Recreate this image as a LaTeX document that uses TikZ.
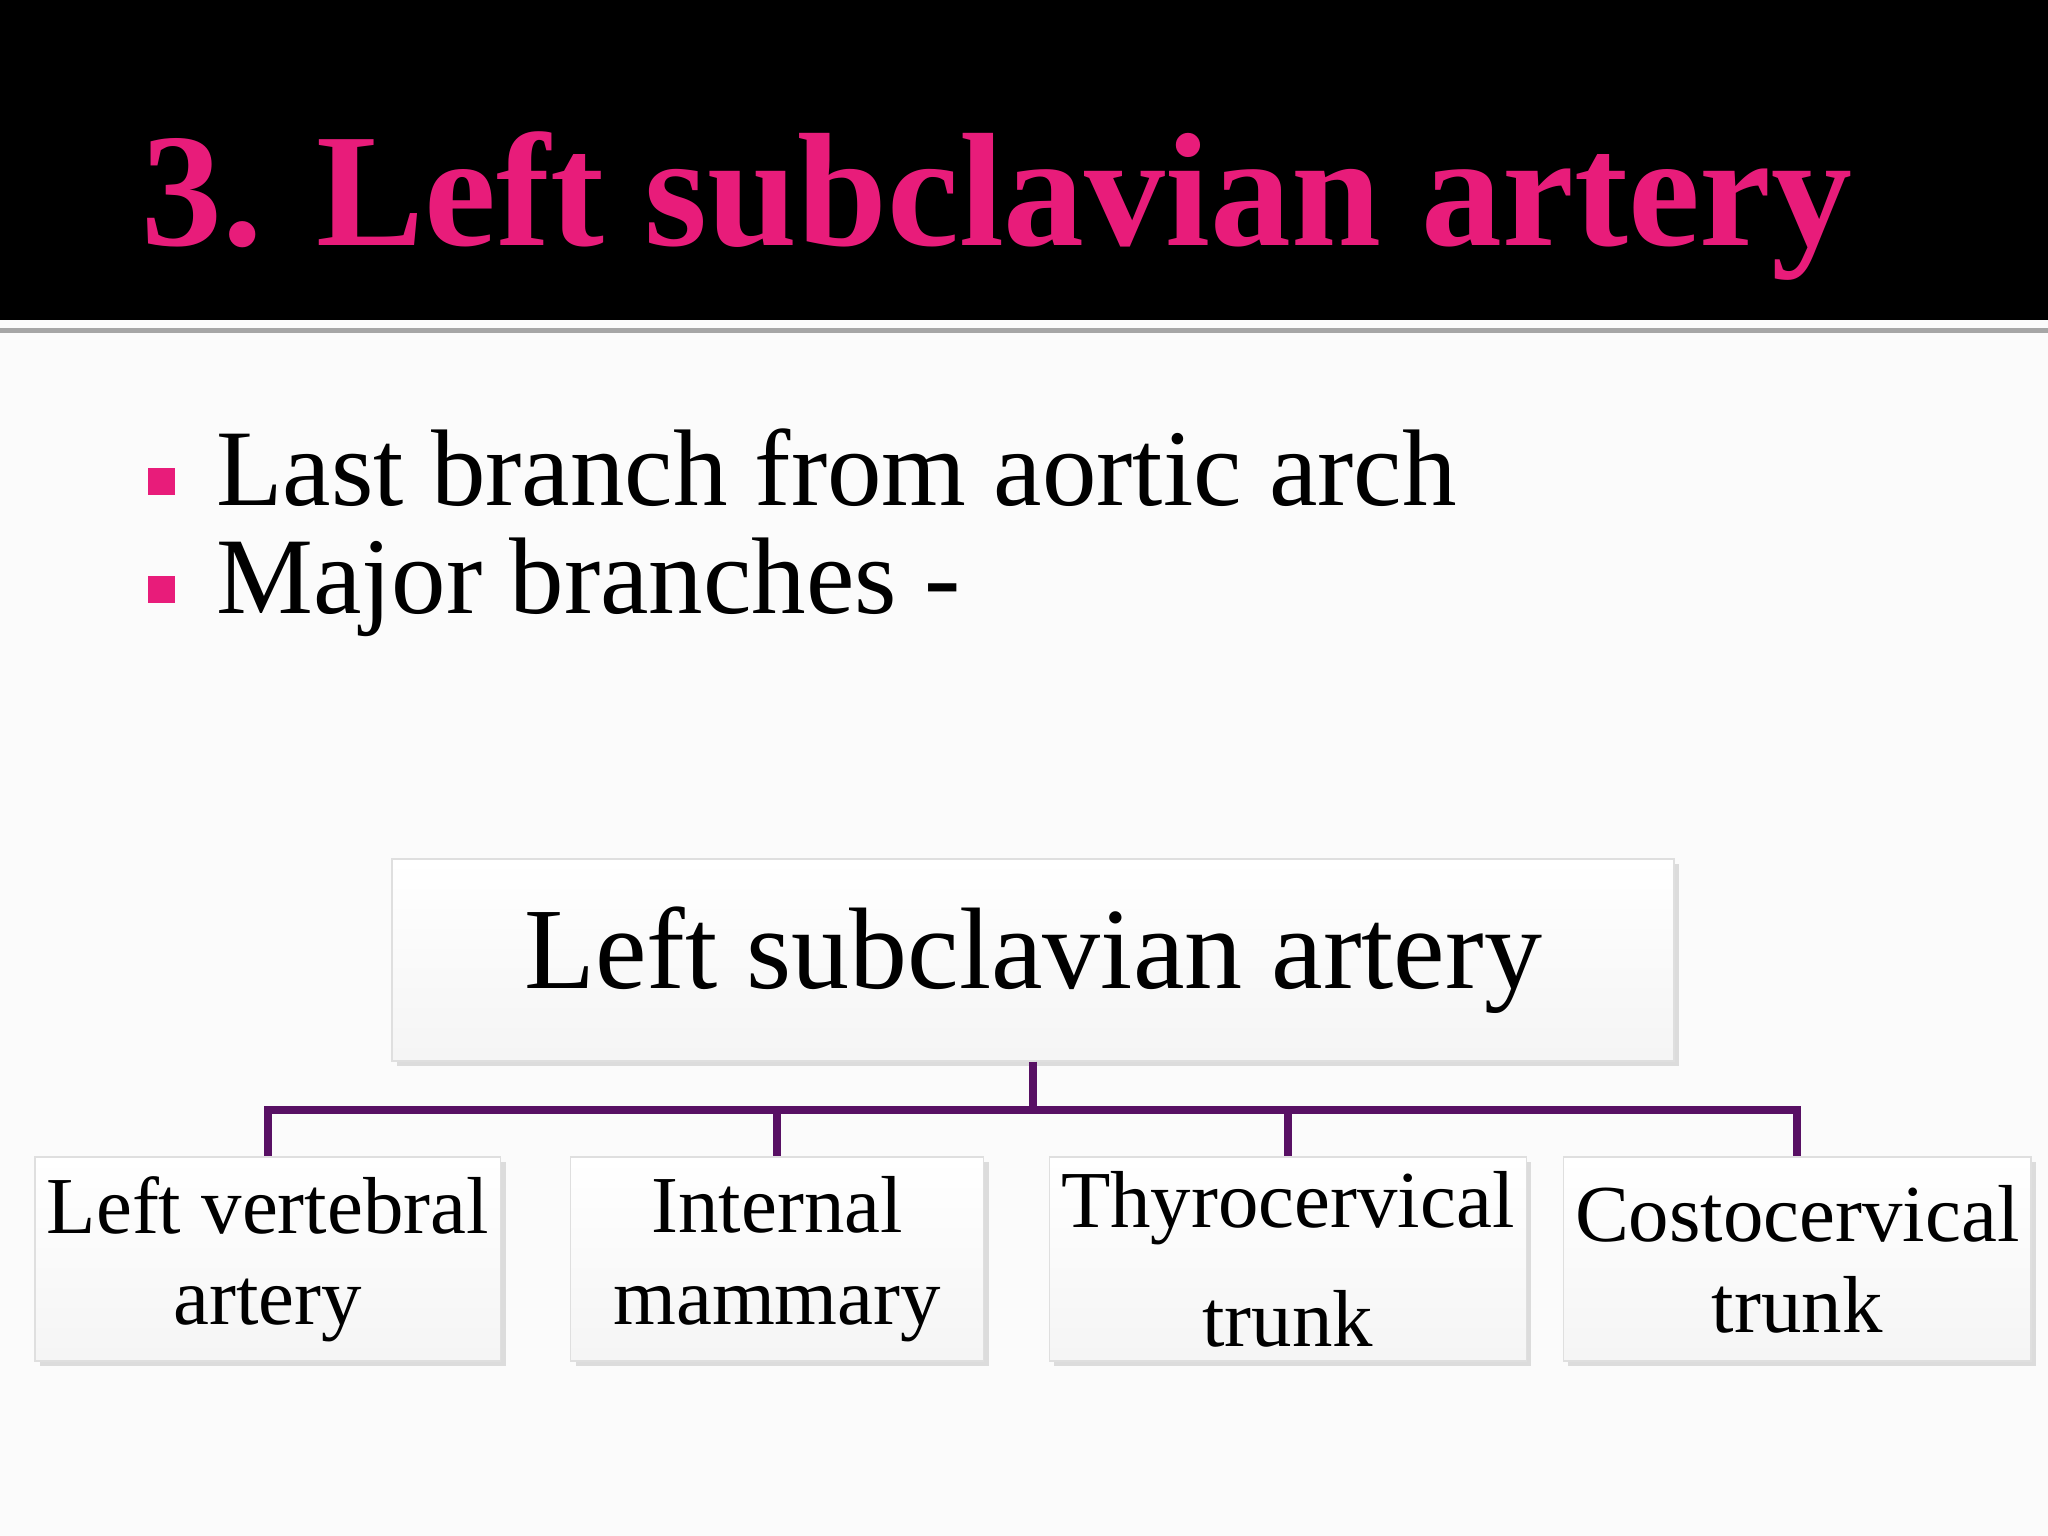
\documentclass[tikz,border=0pt]{standalone}
\usepackage{fontspec}
\setmainfont{Liberation Serif}
\usetikzlibrary{positioning,shadows}
\definecolor{slidepink}{RGB}{232,28,122}
\definecolor{linkpurple}{RGB}{88,16,100}
\tikzset{
  branchbox/.style={draw=gray!25, top color=white, bottom color=gray!8, drop shadow={opacity=0.25, shadow xshift=0.5mm, shadow yshift=-0.5mm},
    minimum width=4.13cm, minimum height=2.04cm, align=center, font=\fontsize{23}{26}\selectfont},
  link/.style={draw=linkpurple, line width=2.2pt}
}
\begin{document}
\begin{tikzpicture}[x=0.01306cm,y=-0.01306cm]
  \useasboundingbox (0,0) rectangle (1568,1176);
  \fill[white!97!gray] (0,0) rectangle (1568,1176);
  % header band
  \fill[black] (0,0) rectangle (1568,245);
  \draw[gray!70, line width=1.5pt] (0,253) -- (1568,253);
  \node[anchor=base west, text=slidepink, font=\fontsize{46}{50}\selectfont\bfseries, inner sep=0] (title) at (108,188) {3. Left subclavian artery};
  % bullets
  \fill[slidepink] (113,358) rectangle (134,379);
  \fill[slidepink] (113,441) rectangle (134,462);
  \node[anchor=base west, font=\fontsize{31}{34}\selectfont, inner sep=0] (b1) at (165,387) {Last branch from aortic arch};
  \node[anchor=base west, font=\fontsize{31}{34}\selectfont, inner sep=0] (b2) at (165,470) {Major branches -};
  % tree
  \node[branchbox, minimum width=12.82cm, minimum height=2.02cm, font=\fontsize{33}{36}\selectfont] (lsa) at (791,735) {Left subclavian artery};
  \node[branchbox] (vert) at (205,964) {Left vertebral\\artery};
  \node[branchbox] (mamm) at (595,964) {Internal\\mammary};
  \node[branchbox, font=\fontsize{23}{34}\selectfont] (thyro) at (986,964) {Thyrocervical\\trunk};
  \node[branchbox] (costo) at (1376,964) {Costocervical\\trunk};
  \coordinate (hub) at (791,850);
  \draw[link] (lsa.south) -- (hub);
  \foreach \b in {vert,mamm,thyro,costo}
    \draw[link] (hub) -| (\b.north);
\end{tikzpicture}
\end{document}
